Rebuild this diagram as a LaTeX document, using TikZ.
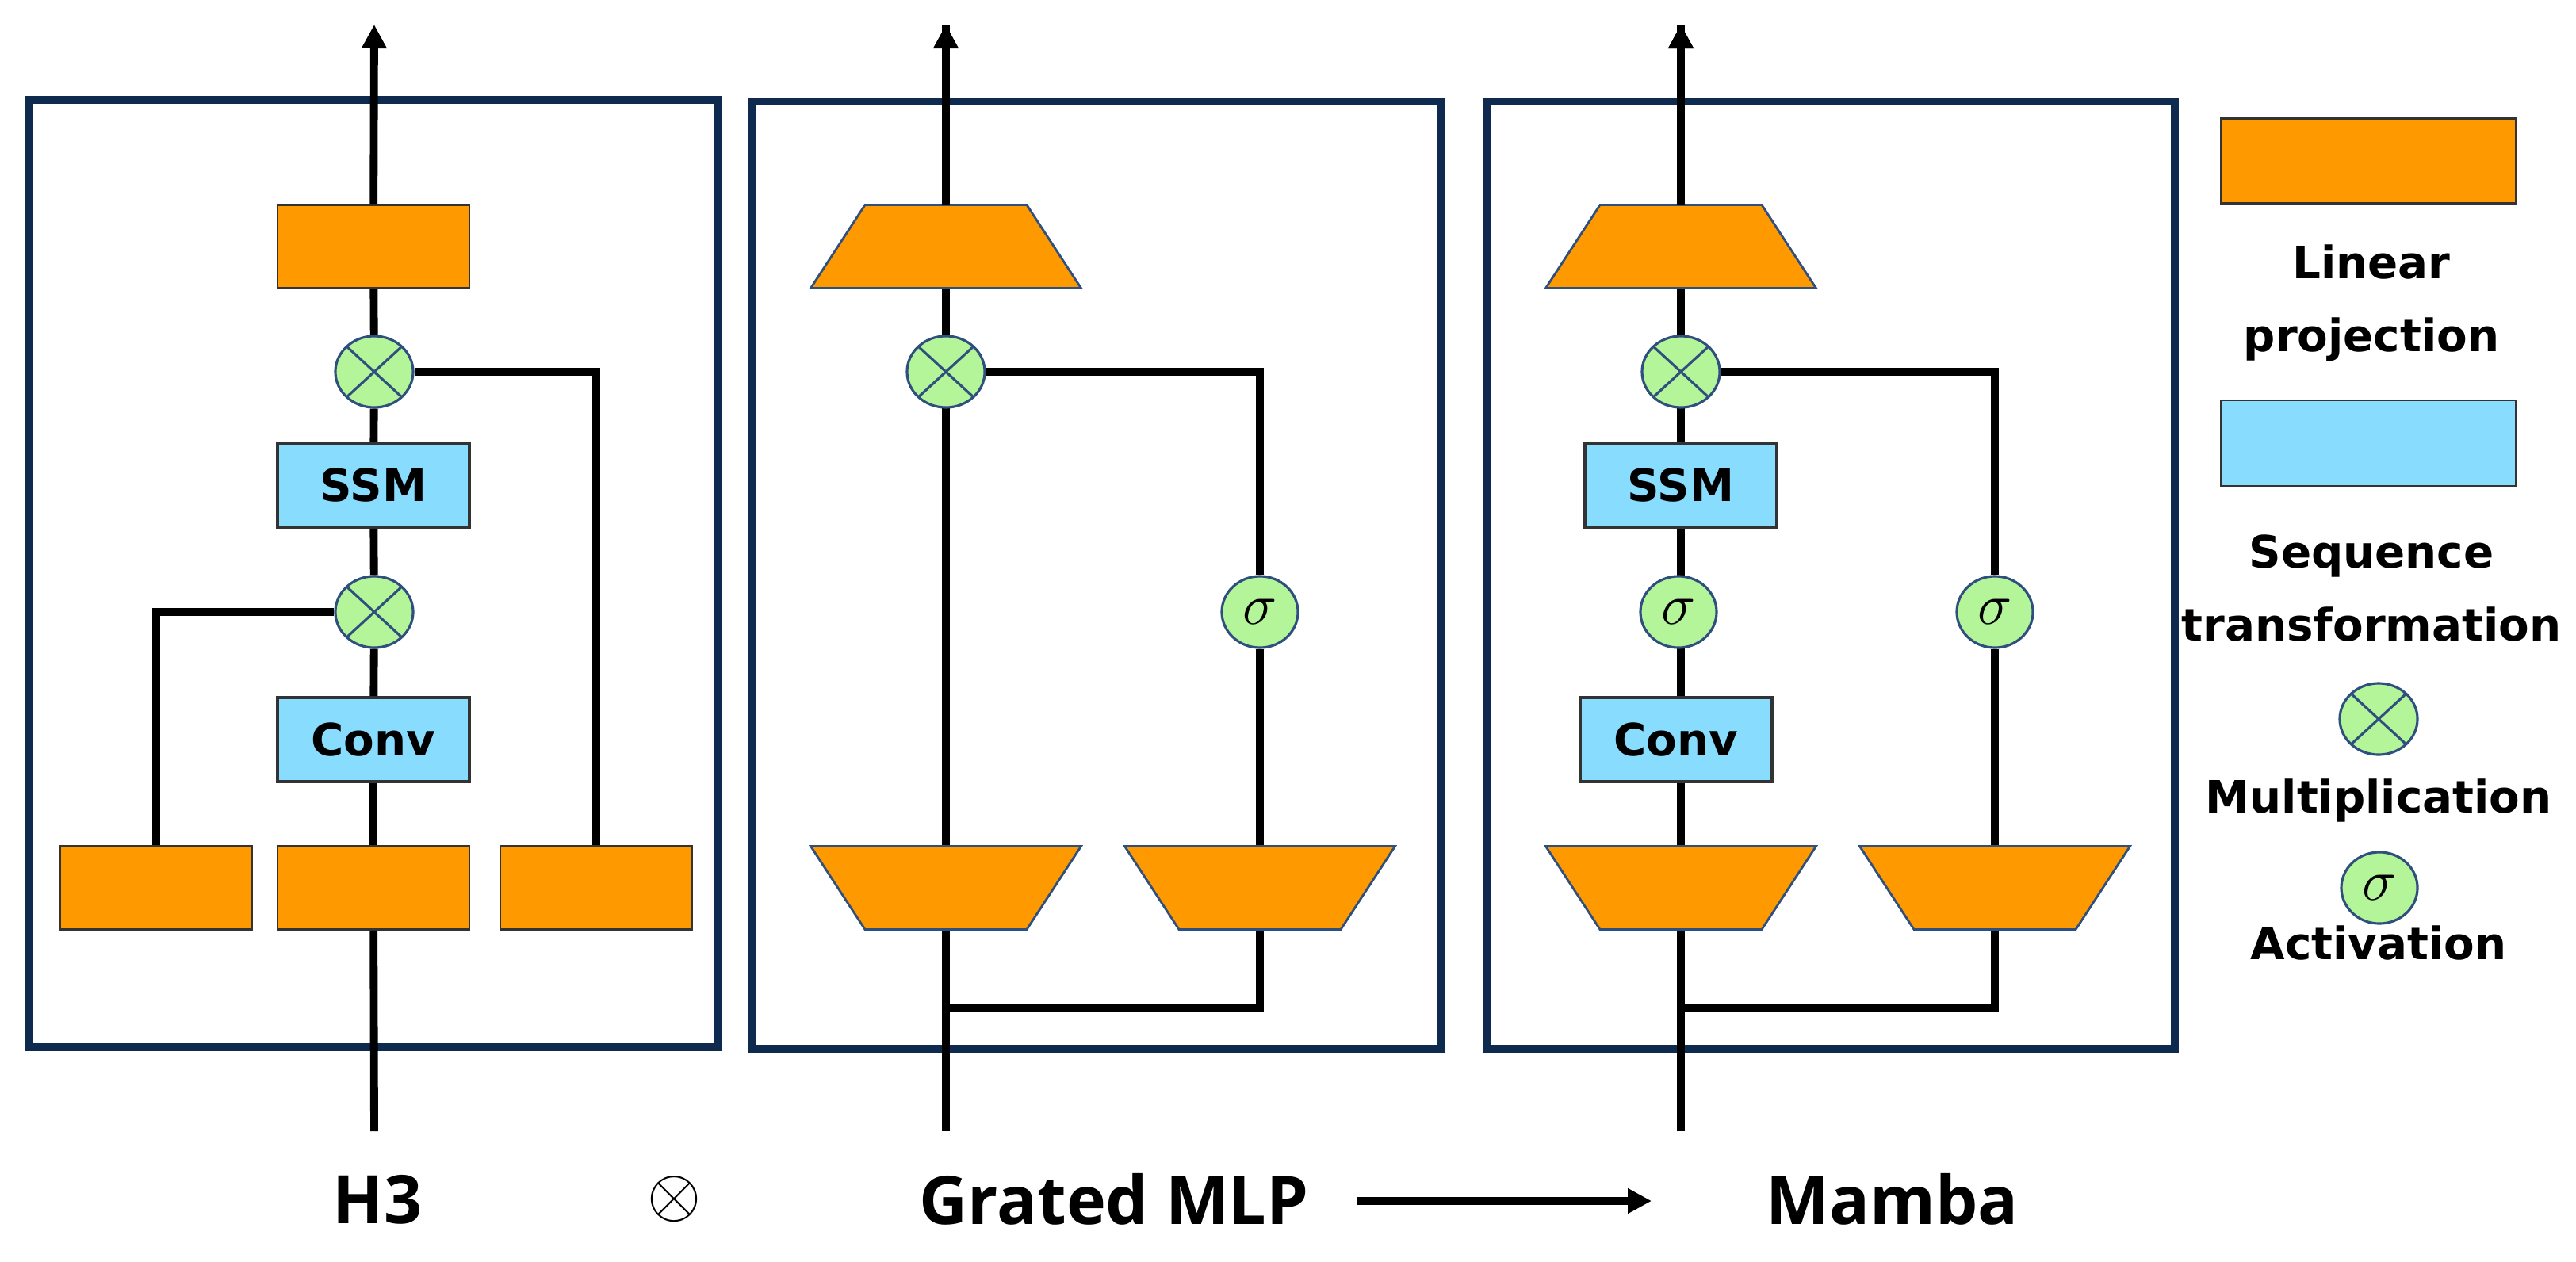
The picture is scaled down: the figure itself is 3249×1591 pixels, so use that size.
\documentclass[tikz,border=0pt]{standalone}
\usepackage{fontspec}
\setmainfont{Open Sans}
\newfontfamily\dejab{DejaVu Sans}[BoldFont={* Bold}]
\usetikzlibrary{shapes.geometric,arrows.meta}
\definecolor{orng}{HTML}{FF9900}
\definecolor{sky}{HTML}{88DDFF}
\definecolor{grn}{HTML}{B5F59A}
\definecolor{navy}{HTML}{0E2A4F}
\definecolor{cedge}{HTML}{2F4F7F}
% #1 name, #2 x, #3 y, #4 = +1 wide bottom, -1 wide top
\newcommand\mytrap[4]{%
  \node[minimum width=2.04cm,minimum height=1.05cm,inner sep=0pt] (#1) at (#2,#3) {};
  \fill[orng,draw=cedge,line width=0.8pt]
    ($(#2,#3)+(-102,-52.5*#4)$) -- ($(#2,#3)+(102,-52.5*#4)$) --
    ($(#2,#3)+(170.5,52.5*#4)$) -- ($(#2,#3)+(-170.5,52.5*#4)$) -- cycle;}
\usetikzlibrary{calc}
\begin{document}
\begin{tikzpicture}[x=0.01cm,y=-0.01cm,
  panel/.style={draw=navy,line width=2.6pt},
  wire/.style={line width=2.8pt,black},
  lin/.style={draw=black!80,line width=0.8pt,fill=orng,minimum width=2.42cm,minimum height=1.05cm,inner sep=0pt},
  seq/.style={draw=black!80,line width=1pt,fill=sky,minimum width=2.42cm,minimum height=1.06cm,inner sep=0pt,font=\dejab\bfseries\fontsize{16}{18}\selectfont},
  mult/.style={ellipse,draw=cedge,line width=0.9pt,fill=grn,minimum width=0.98cm,minimum height=0.9cm,inner sep=0pt,
    path picture={\draw[cedge,line width=0.9pt] (path picture bounding box.north west)--(path picture bounding box.south east)
      (path picture bounding box.north east)--(path picture bounding box.south west);}},
  act/.style={ellipse,draw=cedge,line width=0.9pt,fill=grn,minimum width=0.96cm,minimum height=0.9cm,inner sep=0pt,font=\fontsize{22}{24}\selectfont},
  leg/.style={align=center,font=\dejab\bfseries\fontsize{16}{26}\selectfont},
  big/.style={font=\bfseries\fontsize{24}{28}\selectfont},
  arr/.style={wire,-{Triangle[length=0.3cm,width=0.3cm]}}
]
\useasboundingbox (0,0) rectangle (3249,1591);
% panels
\draw[panel] (37,126) rectangle (906,1321);
\draw[panel] (949,128) rectangle (1817,1323);
\draw[panel] (1875,128) rectangle (2743,1323);

% ---------- H3 ----------
\coordinate (hin) at (472,1427);
\coordinate (hout) at (472,31);
\node[lin] (htop) at (471,311) {};
\node[mult] (hm1) at (472,469) {};
\node[seq] (hssm) at (471,612) {SSM};
\node[mult] (hm2) at (472,772) {};
\node[seq] (hconv) at (471,933) {Conv};
\node[lin] (hb1) at (197,1120) {};
\node[lin] (hb2) at (471,1120) {};
\node[lin] (hb3) at (752,1120) {};
\draw[wire] (hin) -- (hb2);
\draw[wire] (hb2) -- (hconv);
\draw[wire] (hconv) -- (hm2);
\draw[wire] (hm2) -- (hssm);
\draw[wire] (hssm) -- (hm1);
\draw[wire] (hm1) -- (htop);
\draw[arr] (htop) -- (hout);
\draw[wire] (hb1.north) |- (hm2.west);
\draw[wire] (hb3.north) |- (hm1.east);

% ---------- Gated MLP ----------
\coordinate (gin) at (1193,1427);
\coordinate (gout) at (1193,31);
\coordinate (gj) at (1193,1272);
\draw[wire] (gin) -- (gout);
\mytrap{gtop}{1193}{311}{1}
\node[mult] (gm) at (1193,469) {};
\node[act] (gs) at (1589,772) {$\sigma$};
\draw[wire] (gm.east) -| (gs);
\draw[wire] (gs) -- (gj -| gs) -- (gj);
\mytrap{gbl}{1193}{1120}{-1}
\mytrap{gbr}{1589}{1120}{-1}
\draw[arr] (gtop.north) -- (gout);

% ---------- Mamba ----------
\coordinate (min) at (2120,1427);
\coordinate (mout) at (2120,31);
\coordinate (mj) at (2120,1272);
\draw[wire] (min) -- (mout);
\draw[arr] (2120,200) -- (mout);
\mytrap{mtop}{2120}{311}{1}
\node[mult] (mm) at (2120,469) {};
\node[seq] (mssm) at (2120,612) {SSM};
\node[act] (ms1) at (2117,772) {$\sigma$};
\node[seq] (mconv) at (2114,933) {Conv};
\node[act] (ms2) at (2516,772) {$\sigma$};
\draw[wire] (mm.east) -| (ms2);
\draw[wire] (ms2) -- (mj -| ms2) -- (mj);
\mytrap{mbl}{2120}{1120}{-1}
\mytrap{mbr}{2516}{1120}{-1}
\draw[arr] (mtop.north) -- (mout);

% ---------- legend ----------
\node[lin,minimum width=3.72cm,minimum height=1.07cm] (lg1) at (2987,203) {};
\node[leg] (lt1) at (2991,382) {Linear\\projection};
\node[lin,fill=sky,minimum width=3.72cm,minimum height=1.08cm] (lg2) at (2987,559) {};
\node[leg] (lt2) at (2991,742) {Sequence\\transformation};
\node[mult] (lg3) at (3000,907) {};
\node[leg] (lt3) at (3000,1010) {Multiplication};
\node[act] (lg4) at (3001,1120) {$\sigma$};
\node[leg] (lt4) at (3000,1190) {Activation};

% ---------- bottom labels ----------
\node[big] (l1) at (476,1513) {H3};
\node[font=\fontsize{28}{30}\selectfont] (l2) at (851,1513) {$\otimes$};
\node[big,anchor=west,inner sep=0pt] (l3) at (1159,1513) {Grated MLP};
\coordinate (a1) at (1712,1515);
\coordinate (a2) at (2083,1515);
\draw[arr] (a1) -- (a2);
\node[big,anchor=west,inner sep=0pt] (l4) at (2227,1513) {Mamba};
\end{tikzpicture}
\end{document}
